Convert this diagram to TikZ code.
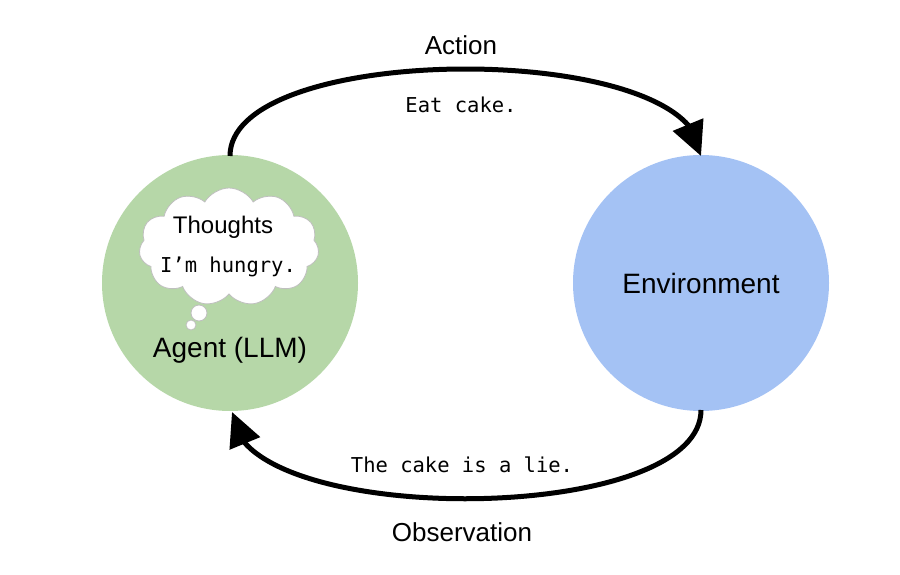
\documentclass[tikz,border=0pt]{standalone}
\usepackage{fontspec}
\setmainfont{Liberation Sans}
\setmonofont{DejaVu Sans Mono}
\usetikzlibrary{shapes.symbols,arrows.meta,bending}
\definecolor{agentg}{HTML}{B6D7A8}
\definecolor{envb}{HTML}{A4C2F4}
\begin{document}
\begin{tikzpicture}[x=1pt,y=-1pt,
  circ/.style={circle,draw=none,minimum size=256pt,inner sep=0pt},
  big/.style={font=\fontsize{28}{32}\selectfont},
  mono/.style={font=\ttfamily\fontsize{20.5}{24}\selectfont},
  loop/.style={line width=5pt,-{Triangle[length=34pt,width=32pt,flex]}},
  puff/.style={draw=gray!50,fill=white,line width=0.8pt}]
\useasboundingbox (0,0) rectangle (900,575);
\node[circ,fill=agentg] (agent) at (230,283) {};
\node[circ,fill=envb] (env) at (701,283) {};
\node[cloud,cloud puffs=11,cloud puff arc=120,aspect=1.6,puff,minimum width=180pt,minimum height=118pt] (cloud) at (229,247) {};
\node[circle,puff,minimum size=16pt,inner sep=0pt] (p1) at (199,313) {};
\node[circle,puff,minimum size=10pt,inner sep=0pt] (p2) at (191,325) {};
\node[font=\fontsize{24}{28}\selectfont] (th) at (223,227) {Thoughts};
\node[mono] (hun) at (228,267) {I’m hungry.};
\node[big] (al) at (230,350) {Agent (LLM)};
\node[big] (el) at (701,283) {Environment};
\coordinate (a1) at (230,156);
\coordinate (a2) at (701,156);
\coordinate (b1) at (701,410);
\coordinate (b2) at (232,412);
\draw[loop] (a1) .. controls (230,40) and (701,40) .. (a2);
\draw[loop] (b1) .. controls (701,528) and (232,528) .. (b2);
\node[font=\fontsize{26}{30}\selectfont] (act) at (461,45) {Action};
\node[mono] (eat) at (461,105) {Eat cake.};
\node[mono] (lie) at (462,465) {The cake is a lie.};
\node[font=\fontsize{26}{30}\selectfont] (obs) at (462,532) {Observation};
\end{tikzpicture}
\end{document}
